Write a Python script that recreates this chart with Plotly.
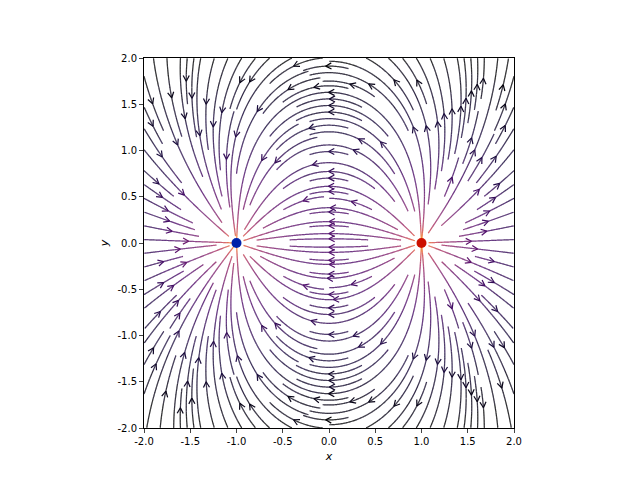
import numpy as np
import plotly.graph_objects as go
from plotly.colors import sample_colorscale

# charges
charge_x = [1.0, -1.0]
charge_y = [0.0, 0.0]
charge_q = [1.0, -1.0]
charge_colors = ["#cc1100", "#0022aa"]
x_range = [-2, 2]
y_range = [-2, 2]
ticks = [-2.0, -1.5, -1.0, -0.5, 0.0, 0.5, 1.0, 1.5, 2.0]

def field(x, y):
    ex = ey = 0.0
    for cx, cy, q in zip(charge_x, charge_y, charge_q):
        dx, dy = x - cx, y - cy
        r3 = (dx*dx + dy*dy) ** 1.5 + 1e-12
        ex += q*dx/r3; ey += q*dy/r3
    return ex, ey

N = 56
mask = np.zeros((N, N), bool)
def cell(x, y):
    i = int((x + 2) / 4 * N); j = int((y + 2) / 4 * N)
    return min(max(i, 0), N-1), min(max(j, 0), N-1)

h = 0.008
def integrate(x, y, sign, cells):
    pts = []
    last = cell(x, y)
    for _ in range(3000):
        ex, ey = field(x, y)
        m = np.hypot(ex, ey)
        if m == 0: break
        mx, my = x + 0.5*h*sign*ex/m, y + 0.5*h*sign*ey/m
        ex, ey = field(mx, my); m = np.hypot(ex, ey)
        nx, ny = x + h*sign*ex/m, y + h*sign*ey/m
        if not (-2 <= nx <= 2 and -2 <= ny <= 2): break
        if min(np.hypot(nx - cx, ny - cy) for cx, cy in zip(charge_x, charge_y)) < 0.04: break
        c = cell(nx, ny)
        if c != last:
            if mask[c] or c in cells: break
            cells.add(c); last = c
        x, y = nx, ny
        pts.append((x, y))
    return pts

seeds = sorted(((i, j) for i in range(N) for j in range(N)),
               key=lambda c: (min(c[0], c[1], N-1-c[0], N-1-c[1]), c[0], c[1]))
lines = []
for i, j in seeds:
    if mask[i, j]: continue
    x0 = -2 + (i + 0.5) * 4 / N; y0 = -2 + (j + 0.5) * 4 / N
    cells = {(i, j)}
    b = integrate(x0, y0, -1, cells)
    f = integrate(x0, y0, 1, cells)
    pts = b[::-1] + [(x0, y0)] + f
    if len(pts) * h < 0.4: continue
    for c in cells: mask[c] = True
    lines.append((np.array(pts), len(b)))

allmag = np.concatenate([np.log(np.hypot(*field(p[:, 0], p[:, 1]))) for p, _ in lines])
lo, hi = allmag.min(), allmag.max()
NB = 24
cols = sample_colorscale("Inferno", [(k/(NB-1))*0.78 for k in range(NB)])
bins = [([], []) for _ in range(NB)]
L, ang = 0.07, np.radians(28)
for p, mid in lines:
    lm = np.log(np.hypot(*field(p[:, 0], p[:, 1])))
    idx = np.clip(((lm - lo)/(hi - lo)*(NB-1)).astype(int), 0, NB-1)
    for k in range(len(p) - 1):
        bx, by = bins[idx[k]]
        bx += [p[k, 0], p[k+1, 0], None]; by += [p[k, 1], p[k+1, 1], None]
    m = len(p)//2
    d = p[m+1] - p[m-1]
    th = np.arctan2(d[1], d[0])
    tx, ty = p[m]
    bx, by = bins[idx[m]]
    for s in (1, -1):
        bx += [tx - L*np.cos(th + s*ang), tx, None]
        by += [ty - L*np.sin(th + s*ang), ty, None]

fig = go.Figure()
for k, (bx, by) in enumerate(bins):
    if bx:
        fig.add_trace(go.Scatter(x=bx, y=by, mode="lines", line=dict(color=cols[k], width=1.2),
                                 hoverinfo="skip"))
fig.add_trace(go.Scatter(x=charge_x, y=charge_y, mode="markers",
                         marker=dict(size=10, color=charge_colors)))
ax = dict(range=x_range, tickvals=ticks, ticktext=[f"{t:.1f}" for t in ticks], ticks="outside",
          showgrid=False, zeroline=False, showline=True, linecolor="black", mirror=True,
          tickfont=dict(family="DejaVu Sans", size=10, color="black"), ticklen=4)
fig.update_layout(width=640, height=480, margin=dict(l=136, r=134, t=50, b=60),
                  plot_bgcolor="white", paper_bgcolor="white", showlegend=False,
                  xaxis=dict(ax, title=dict(text="<i>x</i>", font=dict(family="DejaVu Sans", size=11, color="black"), standoff=6)),
                  yaxis=dict(ax, range=y_range, title=dict(text="<i>y</i>", font=dict(family="DejaVu Sans", size=11, color="black"), standoff=6)))
fig.write_html("out.html")
